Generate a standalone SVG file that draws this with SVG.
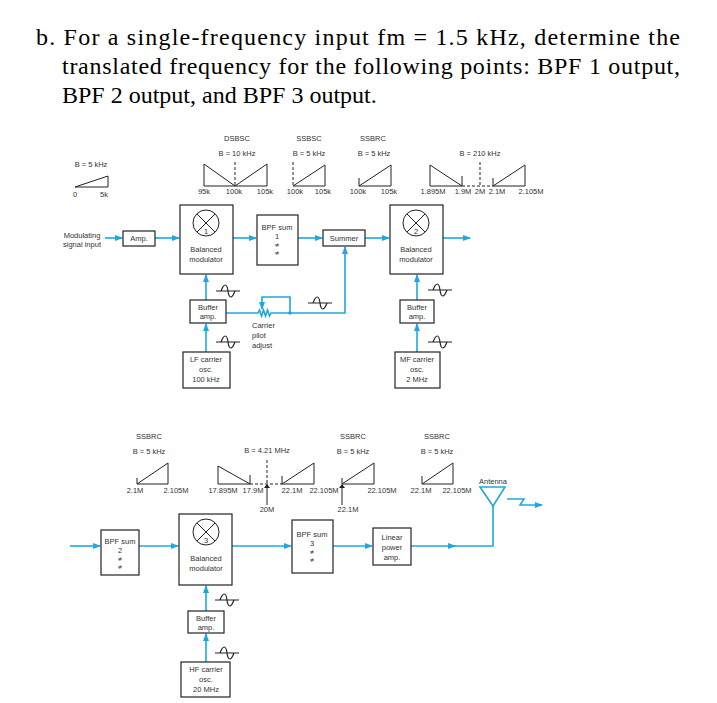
<svg xmlns="http://www.w3.org/2000/svg" width="717" height="703" viewBox="0 0 717 703">
<defs>
<marker id="ah" markerWidth="8" markerHeight="6" refX="7" refY="3" orient="auto" markerUnits="userSpaceOnUse"><path d="M0,0 L8,3 L0,6 Z" fill="#1fa8e0"/></marker>
<marker id="bh" markerWidth="4" markerHeight="6" refX="3" refY="3" orient="auto" markerUnits="userSpaceOnUse"><path d="M0,0 L4,3 L0,6 Z" fill="#222"/></marker>
<g id="sine"><path d="M-12,0 H12 M-7,0 C-4,-8 -1,-8 0,0 C1,8 4,8 7,0" fill="none" stroke="#222" stroke-width="1.2"/></g>
</defs>
<style>
.t{font-family:"Liberation Serif",serif;font-size:24px;fill:#000}
.s{font-family:"Liberation Sans",sans-serif;font-size:7.5px;fill:#333;text-anchor:middle}
.f{font-family:"DejaVu Sans",sans-serif;font-size:6px;fill:#333;text-anchor:middle}
.b{fill:#fff;stroke:#222;stroke-width:1.2}
.w{fill:none;stroke:#1fa8e0;stroke-width:1.6}
.sp{fill:none;stroke:#222;stroke-width:1}
.d{fill:none;stroke:#222;stroke-width:1;stroke-dasharray:3,2}
</style>
<rect width="717" height="703" fill="#fff"/>
<text class="t" x="36" y="45" textLength="644" lengthAdjust="spacing">b. For a single-frequency input fm = 1.5 kHz, determine the</text>
<text class="t" x="62" y="74" textLength="618" lengthAdjust="spacing">translated frequency for the following points: BPF 1 output,</text>
<text class="t" x="62" y="103">BPF 2 output, and BPF 3 output.</text>

<g id="spectra">
<text class="s" x="91" y="167">B = 5 kHz</text>
<path class="sp" d="M75,187 H108 V176 Z"/>
<text class="s" x="75" y="197">0</text><text class="s" x="104" y="197">5k</text>
<text class="s" x="237" y="141">DSBSC</text><text class="s" x="237" y="156">B = 10 kHz</text>
<path class="sp" d="M204,186 V164 L235,186 L267,164 V186 H204"/><path class="d" d="M235,162 V186"/>
<text class="s" x="204" y="194">95k</text><text class="s" x="234" y="194">100k</text><text class="s" x="265" y="194">105k</text>
<text class="s" x="309" y="141">SSBSC</text><text class="s" x="309" y="156">B = 5 kHz</text>
<path class="sp" d="M293,186 L325,165 V186 H293"/><path class="d" d="M293,162 V186"/>
<text class="s" x="295" y="194">100k</text><text class="s" x="323" y="194">105k</text>
<text class="s" x="373" y="141">SSBRC</text><text class="s" x="374" y="156">B = 5 kHz</text>
<path class="sp" d="M359,178 V186 L391,165 V186 H359"/>
<text class="s" x="358" y="194">100k</text><text class="s" x="389" y="194">105k</text>
<text class="s" x="480" y="156">B = 210 kHz</text>
<path class="sp" d="M462,176 V186 L430,165 V186 H462"/><path class="d" d="M462,186 H493 M480,162 V186"/>
<path class="sp" d="M493,178 V186 L525,165 V186 H493"/>
<text class="s" x="433" y="194">1.895M</text><text class="s" x="463" y="194">1.9M</text><text class="s" x="480" y="194">2M</text><text class="s" x="497" y="194">2.1M</text><text class="s" x="531" y="194">2.105M</text>

<text class="s" x="149" y="439">SSBRC</text><text class="s" x="149" y="454">B = 5 kHz</text>
<path class="sp" d="M137,478 V484 L168,463 V484 H137"/>
<text class="s" x="135" y="493">2.1M</text><text class="s" x="176" y="493">2.105M</text>
<text class="s" x="267" y="453">B = 4.21 MHz</text>
<path class="sp" d="M250,475 V484 L218,466 V484 H250"/><path class="d" d="M250,484 H282 M267,460 V484"/>
<path class="sp" d="M282,476 V484 L314,463 V484 H282"/>
<path class="sp" d="M267,505 V485" marker-end="url(#bh)"/>
<text class="s" x="223" y="493">17.895M</text><text class="s" x="253" y="493">17.9M</text><text class="s" x="292" y="493">22.1M</text><text class="s" x="324" y="493">22.105M</text>
<text class="s" x="267" y="512">20M</text>
<text class="s" x="353" y="439">SSBRC</text><text class="s" x="353" y="454">B = 5 kHz</text>
<path class="sp" d="M342,478 V484 L374,463 V484 H342"/><path class="sp" d="M342,505 V485" marker-end="url(#bh)"/>
<text class="s" x="382" y="493">22.105M</text><text class="s" x="348" y="512">22.1M</text>
<text class="s" x="437" y="439">SSBRC</text><text class="s" x="437" y="454">B = 5 kHz</text>
<path class="sp" d="M422,476 V484 L453,463 V484 H422"/>
<text class="s" x="421" y="493">22.1M</text><text class="s" x="457" y="493">22.105M</text>
</g>

<g id="connectors">
<path class="w" d="M105,238 H122" marker-end="url(#ah)"/>
<path class="w" d="M155,238 H179" marker-end="url(#ah)"/>
<path class="w" d="M233,238 H256" marker-end="url(#ah)"/>
<path class="w" d="M298,238 H322" marker-end="url(#ah)"/>
<path class="w" d="M365,238 H389" marker-end="url(#ah)"/>
<path class="w" d="M443,238 H470" marker-end="url(#ah)"/>
<path class="w" d="M206,300 V275" marker-end="url(#ah)"/>
<path class="w" d="M206,352 V324" marker-end="url(#ah)"/>
<path class="w" d="M417,300 V275" marker-end="url(#ah)"/>
<path class="w" d="M417,352 V324" marker-end="url(#ah)"/>
<path class="w" d="M226,313 H258 l1.5,-3 l2,6 l2,-6 l2,6 l2,-6 l2,6 l1.5,-3 H345 V247" marker-end="url(#ah)"/>
<path class="w" d="M290,313 V297 H262 V309" marker-end="url(#ah)"/>
<circle cx="290" cy="313" r="1.8" fill="#1fa8e0"/>
<path class="w" d="M70,546 H100" marker-end="url(#ah)"/>
<path class="w" d="M139,546 H178" marker-end="url(#ah)"/>
<path class="w" d="M232,546 H291" marker-end="url(#ah)"/>
<path class="w" d="M333,546 H372" marker-end="url(#ah)"/>
<path class="w" d="M411,546 H455" marker-end="url(#ah)"/><path class="w" d="M454,546 H493 V506"/>
<path class="w" d="M206,611 V586" marker-end="url(#ah)"/>
<path class="w" d="M206,662 V634" marker-end="url(#ah)"/>
<path class="w" d="M480,487 H505 L493,506 Z"/>
<path class="w" d="M507,499 H524 L520,505 H542" marker-end="url(#ah)"/>
<use href="#sine" x="228" y="291"/><use href="#sine" x="228" y="342"/>
<use href="#sine" x="320" y="303"/>
<use href="#sine" x="440" y="290"/><use href="#sine" x="440" y="342"/>
<use href="#sine" x="227" y="600"/><use href="#sine" x="227" y="653"/>
</g>

<text class="s" x="82" y="238">Modulating</text><text class="s" x="82" y="247">signal input</text>
<text class="s" x="493" y="484">Antenna</text>
<text class="s" x="252" y="328" style="text-anchor:start">Carrier</text><text class="s" x="252" y="338" style="text-anchor:start">pilot</text><text class="s" x="252" y="348" style="text-anchor:start">adjust</text>

<g id="amp"><rect class="b" x="123" y="231" width="32" height="15"/><text class="s" x="139" y="241">Amp.</text></g>
<g id="bm1"><rect class="b" x="180" y="205" width="53" height="69"/><circle class="sp" cx="206" cy="223" r="13"/><path class="sp" d="M197,214 L215,232 M215,214 L197,232"/><text class="s" x="206" y="234">1</text><text class="s" x="206" y="252">Balanced</text><text class="s" x="206" y="262">modulator</text></g>
<g id="bpf1"><rect class="b" x="257" y="215" width="41" height="50"/><text class="s" x="277" y="230">BPF sum</text><text class="s" x="277" y="239">1</text><text class="f" x="277" y="247">≉</text><text class="f" x="277" y="255">≉</text></g>
<g id="summer"><rect class="b" x="323" y="230" width="42" height="16"/><text class="s" x="344" y="241">Summer</text></g>
<g id="bm2"><rect class="b" x="390" y="205" width="53" height="69"/><circle class="sp" cx="416" cy="223" r="13"/><path class="sp" d="M407,214 L425,232 M425,214 L407,232"/><text class="s" x="416" y="234">2</text><text class="s" x="416" y="252">Balanced</text><text class="s" x="416" y="262">modulator</text></g>
<g id="buf1"><rect class="b" x="190" y="300" width="36" height="23"/><text class="s" x="208" y="310">Buffer</text><text class="s" x="208" y="319">amp.</text></g>
<g id="lf"><rect class="b" x="183" y="352" width="47" height="36"/><text class="s" x="206" y="362">LF carrier</text><text class="s" x="206" y="372">osc.</text><text class="s" x="206" y="382">100 kHz</text></g>
<g id="buf2"><rect class="b" x="400" y="300" width="34" height="23"/><text class="s" x="417" y="310">Buffer</text><text class="s" x="417" y="319">amp.</text></g>
<g id="mf"><rect class="b" x="395" y="352" width="45" height="36"/><text class="s" x="417" y="362">MF carrier</text><text class="s" x="417" y="372">osc.</text><text class="s" x="417" y="382">2 MHz</text></g>
<g id="bpf2"><rect class="b" x="101" y="530" width="38" height="45"/><text class="s" x="120" y="544">BPF sum</text><text class="s" x="120" y="553">2</text><text class="f" x="120" y="561">≉</text><text class="f" x="120" y="569">≉</text></g>
<g id="bm3"><rect class="b" x="179" y="514" width="53" height="71"/><circle class="sp" cx="206" cy="532" r="13"/><path class="sp" d="M197,523 L215,541 M215,523 L197,541"/><text class="s" x="206" y="543">3</text><text class="s" x="206" y="561">Balanced</text><text class="s" x="206" y="571">modulator</text></g>
<g id="bpf3"><rect class="b" x="292" y="520" width="41" height="53"/><text class="s" x="312" y="537">BPF sum</text><text class="s" x="312" y="546">3</text><text class="f" x="312" y="554">≉</text><text class="f" x="312" y="562">≉</text></g>
<g id="lpa"><rect class="b" x="373" y="528" width="38" height="37"/><text class="s" x="392" y="540">Linear</text><text class="s" x="392" y="550">power</text><text class="s" x="392" y="560">amp.</text></g>
<g id="buf3"><rect class="b" x="188" y="611" width="36" height="22"/><text class="s" x="206" y="621">Buffer</text><text class="s" x="206" y="630">amp.</text></g>
<g id="hf"><rect class="b" x="181" y="662" width="49" height="35"/><text class="s" x="206" y="672">HF carrier</text><text class="s" x="206" y="682">osc.</text><text class="s" x="206" y="692">20 MHz</text></g>
</svg>
